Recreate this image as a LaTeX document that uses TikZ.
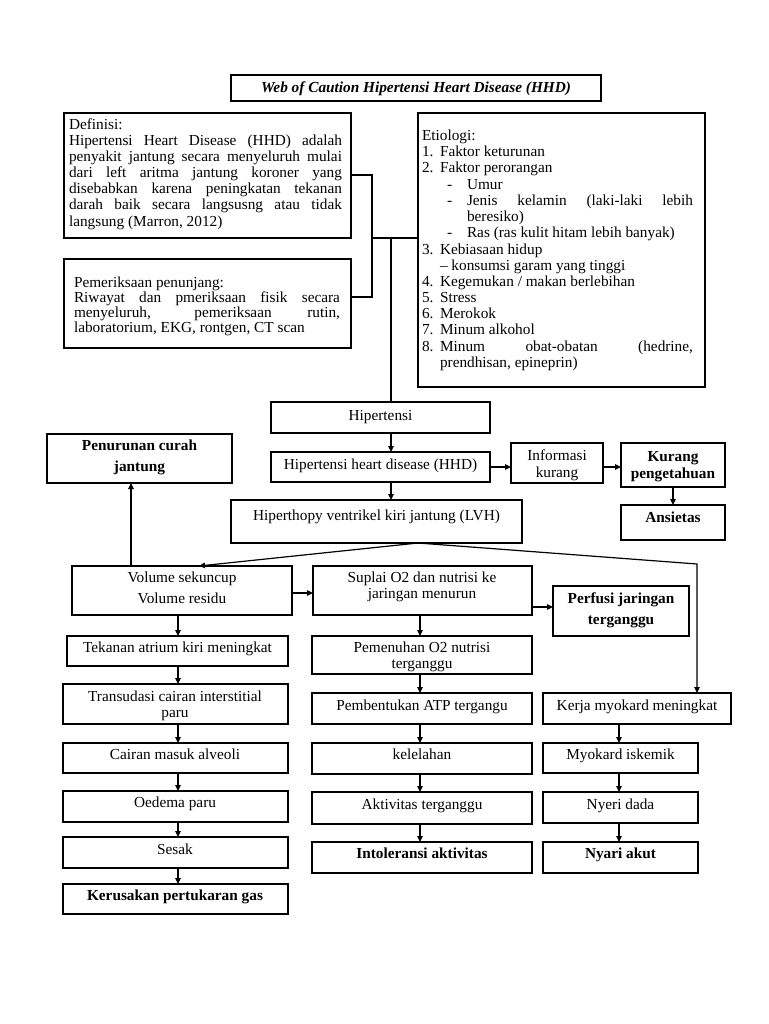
\documentclass[tikz,border=0pt]{standalone}
\usepackage{fontspec}
\setmainfont{Liberation Serif}
\usetikzlibrary{arrows.meta}
\newcommand\myfs{\fontsize{15.3}{17}\selectfont}
\newcommand\bxn[5]{\node[bx, minimum width={(#4)-(#2)}, minimum height={(#5)-(#3)}] (#1) at ({((#2)+(#4))/2},{((#3)+(#5))/2}) {};}
\newcommand\tlin[4]{\node[tx] (#1) at ({#2},{#3+5}) {#4};}
\newcommand\lline[4]{\node[txl] (#1) at ({#2},{#3+5}) {#4};}
\newcommand\jline[5]{\node[txl] (#1) at ({#2},{#3+5}) {\makebox[#4pt][s]{#5}};}
\begin{document}
\begin{tikzpicture}[x=1pt,y=-1pt,
 bx/.style={draw, line width=2.5pt, inner sep=0pt, outer sep=0pt},
 tx/.style={inner sep=0pt, outer sep=0pt, font=\myfs, anchor=base},
 txl/.style={tx, anchor=base west},
 arr/.style={line width=1.2pt, -{Triangle[length=6pt,width=5.5pt]}},
 ln/.style={line width=1.2pt}]
\useasboundingbox[fill=white] (0,0) rectangle (768,1024);

% ---------- boxes ----------
\bxn{title}{231}{75}{601}{101}
\bxn{def}{64}{113}{351}{238}
\bxn{pem}{64}{259}{351}{348}
\bxn{eti}{418}{113}{705}{387}
\bxn{hip}{271}{402}{490}{433}
\bxn{hhd}{271}{452}{490}{482}
\bxn{info}{511}{443}{603}{483}
\bxn{kur}{621}{443}{725}{487}
\bxn{ans}{621}{505}{725}{540}
\bxn{pen}{47}{434}{232}{483}
\bxn{lvh}{231}{500}{522}{543}
\bxn{vol}{72}{566}{292}{615}
\bxn{sup}{313}{566}{532}{615}
\bxn{perf}{553}{586}{689}{636}
\bxn{tek}{67}{636}{288}{666}
\bxn{pmn}{312}{636}{532}{674}
\bxn{trans}{63}{684}{288}{724}
\bxn{cair}{63}{743}{288}{773}
\bxn{oed}{63}{791}{288}{822}
\bxn{ses}{63}{837}{288}{868}
\bxn{ker}{63}{884}{288}{914}
\bxn{atp}{312}{693}{532}{724}
\bxn{kel}{312}{743}{532}{774}
\bxn{akt}{312}{792}{532}{824}
\bxn{intl}{312}{842}{532}{873}
\bxn{kerja}{543}{693}{731}{724}
\bxn{myo}{543}{743}{698}{773}
\bxn{nye}{543}{792}{698}{823}
\bxn{nya}{543}{842}{698}{873}

% ---------- texts ----------
\node[tx, font=\myfs\bfseries\itshape] (titlet) at (416,93) {Web of Caution Hipertensi Heart Disease (HHD)};

\lline{d1}{69}{125}{Definisi:}
\jline{d2}{69}{141}{273}{Hipertensi Heart Disease (HHD) adalah}
\jline{d3}{69}{157}{273}{penyakit jantung secara menyeluruh mulai}
\jline{d4}{69}{173}{273}{dari left aritma jantung koroner yang}
\jline{d5}{69}{189}{273}{disebabkan karena peningkatan tekanan}
\jline{d6}{69}{205}{273}{darah baik secara langsusng atau tidak}
\lline{d7}{69}{221}{langsung (Marron, 2012)}

\lline{p1}{74}{282}{Pemeriksaan penunjang:}
\jline{p2}{74}{297}{266}{Riwayat dan pmeriksaan fisik secara}
\jline{p3}{74}{312}{266}{menyeluruh, pemeriksaan rutin,}
\lline{p4}{74}{327}{laboratorium, EKG, rontgen, CT scan}

\lline{e0}{422}{136}{Etiologi:}
\lline{e1}{422}{152}{\makebox[18pt][l]{1.}Faktor keturunan}
\lline{e2}{422}{168}{\makebox[18pt][l]{2.}Faktor perorangan}
\lline{e3}{422}{185}{\hspace*{25pt}\makebox[20pt][l]{-}Umur}
\lline{e4}{422}{201}{\hspace*{25pt}\makebox[20pt][l]{-}\makebox[226pt][s]{Jenis kelamin (laki-laki lebih}}
\lline{e5}{467}{217}{beresiko)}
\lline{e6}{422}{232}{\hspace*{25pt}\makebox[20pt][l]{-}Ras (ras kulit hitam lebih banyak)}
\lline{e7}{422}{249}{\makebox[18pt][l]{3.}Kebiasaan hidup}
\lline{e8}{440}{265}{– konsumsi garam yang tinggi}
\lline{e9}{422}{281}{\makebox[18pt][l]{4.}Kegemukan / makan berlebihan}
\lline{e10}{422}{297}{\makebox[18pt][l]{5.}Stress}
\lline{e11}{422}{313}{\makebox[18pt][l]{6.}Merokok}
\lline{e12}{422}{329}{\makebox[18pt][l]{7.}Minum alkohol}
\lline{e13}{422}{346}{\makebox[18pt][l]{8.}\makebox[253pt][s]{Minum obat-obatan (hedrine,}}
\lline{e14}{440}{362}{prendhisan, epineprin)}

\tlin{hipt}{380.5}{415}{Hipertensi}
\tlin{hhdt}{380.5}{464}{Hipertensi heart disease (HHD)}
\tlin{infoa}{557}{455}{Informasi}
\tlin{infob}{557}{472}{kurang}
\tlin{kura}{673}{456}{\textbf{Kurang}}
\tlin{kurb}{673}{473}{\textbf{pengetahuan}}
\tlin{anst}{673}{517}{\textbf{Ansietas}}
\tlin{pena}{139.5}{445}{\textbf{Penurunan curah}}
\tlin{penb}{139.5}{466}{\textbf{jantung}}
\tlin{lvht}{376.5}{515}{Hiperthopy ventrikel kiri jantung (LVH)}
\tlin{vola}{182}{577}{Volume sekuncup}
\tlin{volb}{182}{598}{Volume residu}
\tlin{supa}{422}{577}{Suplai O2 dan nutrisi ke}
\tlin{supb}{422}{593}{jaringan menurun}
\tlin{perfa}{621}{598}{\textbf{Perfusi jaringan}}
\tlin{perfb}{621}{619}{\textbf{terganggu}}
\tlin{tekt}{177.5}{647}{Tekanan atrium kiri meningkat}
\tlin{pmna}{422}{647}{Pemenuhan O2 nutrisi}
\tlin{pmnb}{422}{663}{terganggu}
\tlin{transa}{175}{696}{Transudasi cairan interstitial}
\tlin{transb}{175}{712}{paru}
\tlin{cairt}{175}{754}{Cairan masuk alveoli}
\tlin{oedt}{175}{802}{Oedema paru}
\tlin{sest}{175}{849}{Sesak}
\tlin{kert}{175}{895}{\textbf{Kerusakan pertukaran gas}}
\tlin{atpt}{422}{705}{Pembentukan ATP tergangu}
\tlin{kelt}{422}{754}{kelelahan}
\tlin{aktt}{422}{804}{Aktivitas terganggu}
\tlin{intt}{422}{853}{\textbf{Intoleransi aktivitas}}
\tlin{kerjat}{637}{705}{Kerja myokard meningkat}
\tlin{myot}{620.5}{754}{Myokard iskemik}
\tlin{nyet}{620.5}{804}{Nyeri dada}
\tlin{nyat}{620.5}{853}{\textbf{Nyari akut}}

% ---------- connectors ----------
\coordinate (jA) at (372,238);
\coordinate (ct) at (391,238);
\coordinate (cl) at (178,0);
\coordinate (cm) at (420,0);
\coordinate (cr) at (619,0);
\coordinate (apex) at (418,543);
\coordinate (rc) at (697,564);
\coordinate (cv) at (131,0);

\draw[ln] (def.east |- 0,175) -| (jA) |- (pem.east |- 0,297);
\draw[ln] (jA) -- (eti.west |- jA);
\draw[ln] (ct) -- (hip.north -| ct);
\draw[arr] (hip.south -| ct) -- (hhd.north -| ct);
\draw[arr] (hhd.south -| ct) -- (lvh.north -| ct);
\draw[arr] (hhd.east) -- (info.west |- hhd.east);
\draw[arr] (info.east |- hhd.east) -- (kur.west |- hhd.east);
\draw[arr] (kur.south) -- (ans.north);

\draw[arr] (apex) -- (vol.north -| 199,0);
\draw[arr] (apex) -- (rc) -- (kerja.north -| rc);
\draw[arr] (vol.north -| cv) -- (pen.south -| cv);
\draw[arr] (vol.east |- 0,593) -- (sup.west |- 0,593);
\draw[arr] (sup.east |- 0,607) -- (perf.west |- 0,607);

\draw[arr] (vol.south -| cl) -- (tek.north -| cl);
\draw[arr] (tek.south -| cl) -- (trans.north -| cl);
\draw[arr] (trans.south -| cl) -- (cair.north -| cl);
\draw[arr] (cair.south -| cl) -- (oed.north -| cl);
\draw[arr] (oed.south -| cl) -- (ses.north -| cl);
\draw[arr] (ses.south -| cl) -- (ker.north -| cl);

\draw[arr] (sup.south -| cm) -- (pmn.north -| cm);
\draw[arr] (pmn.south -| cm) -- (atp.north -| cm);
\draw[arr] (atp.south -| cm) -- (kel.north -| cm);
\draw[arr] (kel.south -| cm) -- (akt.north -| cm);
\draw[arr] (akt.south -| cm) -- (intl.north -| cm);

\draw[arr] (kerja.south -| cr) -- (myo.north -| cr);
\draw[arr] (myo.south -| cr) -- (nye.north -| cr);
\draw[arr] (nye.south -| cr) -- (nya.north -| cr);
\end{tikzpicture}
\end{document}
